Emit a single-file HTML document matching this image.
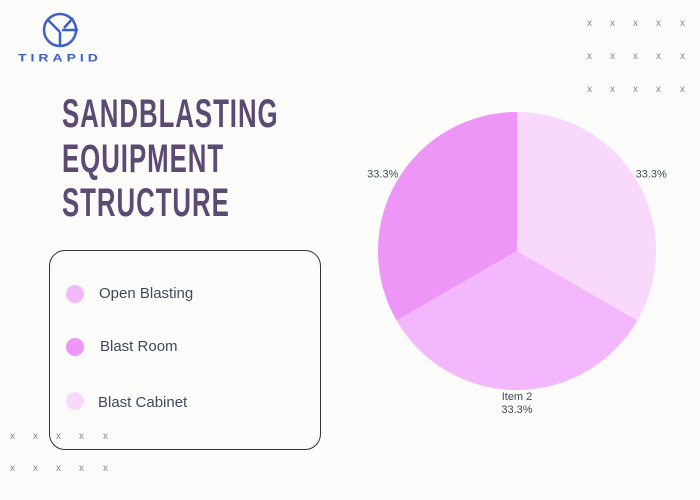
<!DOCTYPE html>
<html><head><meta charset="utf-8"><style>
body{margin:0;width:700px;height:500px;background:#fbfbf9;position:relative;overflow:hidden;font-family:"Liberation Sans",sans-serif}
.t{position:absolute;left:62px;font-weight:bold;color:#5c4a72;font-size:40px;transform-origin:0 0;transform:scaleX(0.645);letter-spacing:1.5px;line-height:1}
.leg{position:absolute;font-size:15px;color:#3e4b5b}
.dot{position:absolute;width:18px;height:18px;border-radius:50%}
.x{position:absolute;font-size:10px;color:#888}
</style></head><body>
<svg style="position:absolute;left:0;top:0" width="120" height="70">
<circle cx="60" cy="30" r="16" fill="none" stroke="#3e5fc8" stroke-width="2.5"/>
<path d="M47 19 L60 32 M60 32 L60 46 M62 30 L78 30 M73 18 L64 28" fill="none" stroke="#3e5fc8" stroke-width="2.5"/>
<text x="18" y="63" font-size="14" font-weight="bold" fill="#3e5fc8" letter-spacing="4" font-family="Liberation Sans,sans-serif" transform="scale(1,0.8) translate(0,14)">TIRAPID</text>
</svg>
<div class="t" style="top:94px">SANDBLASTING</div>
<div class="t" style="top:139px">EQUIPMENT</div>
<div class="t" style="top:183px">STRUCTURE</div>
<div style="position:absolute;left:49px;top:250px;width:270px;height:198px;border:1.3px solid #333;border-radius:16px"></div>
<div class="dot" style="left:66px;top:285px;background:#f3b8fb"></div>
<div class="leg" style="left:99px;top:285px">Open Blasting</div>
<div class="dot" style="left:66px;top:338px;background:#ee96f8"></div>
<div class="leg" style="left:100px;top:338px">Blast Room</div>
<div class="dot" style="left:66px;top:392px;background:#f8d8fb"></div>
<div class="leg" style="left:98px;top:394px">Blast Cabinet</div>
<div id="xs"></div>
<svg id="pie" style="position:absolute;left:0;top:0" width="700" height="500"></svg>
<script>
const labels=["","Item 2",""];
const values=[1,1,1];
const colors=["#f8d8fb","#f3b8fb","#ee96f8"];
const svg=document.getElementById('pie');
const cx=517,cy=251,r=139;
const tot=values.reduce((a,b)=>a+b,0);
let a0=0;
const NS="http://www.w3.org/2000/svg";
values.forEach((v,i)=>{
 const a1=a0+v/tot*2*Math.PI;
 const p=document.createElementNS(NS,'path');
 const x0=cx+r*Math.sin(a0),y0=cy-r*Math.cos(a0),x1=cx+r*Math.sin(a1),y1=cy-r*Math.cos(a1);
 p.setAttribute('d',`M${cx} ${cy} L${x0} ${y0} A${r} ${r} 0 ${a1-a0>Math.PI?1:0} 1 ${x1} ${y1} Z`);
 p.setAttribute('fill',colors[i]);
 
 
 svg.appendChild(p);
 const m=(a0+a1)/2,lr=r+16;
 const lx=cx+lr*Math.sin(m),ly=cy-lr*Math.cos(m);
 const pct=(v/tot*100).toFixed(1)+'%';
 const lines=labels[i]?[labels[i],pct]:[pct];
 lines.forEach((s,k)=>{
  const t=document.createElementNS(NS,'text');
  t.setAttribute('x',lx);t.setAttribute('y',ly+4+k*13+(labels[i]?-10:0));
  t.setAttribute('text-anchor','middle');t.setAttribute('font-size','11');
  t.setAttribute('fill','#3e4b5b');t.setAttribute('font-family','Liberation Sans,sans-serif');
  t.textContent=s;
  
  
  svg.appendChild(t);
 });
 a0=a1;
});
const xs=document.getElementById('xs');
function addX(x,y){const d=document.createElement('div');d.className='x';d.style.left=x+'px';d.style.top=y+'px';d.textContent='x';


xs.appendChild(d);}
[587,610,633,656,680].forEach(x=>[18,51,84].forEach(y=>addX(x,y)));
[10,33,56,79,103].forEach(x=>[431,463].forEach(y=>addX(x,y)));
</script>
</body></html>
